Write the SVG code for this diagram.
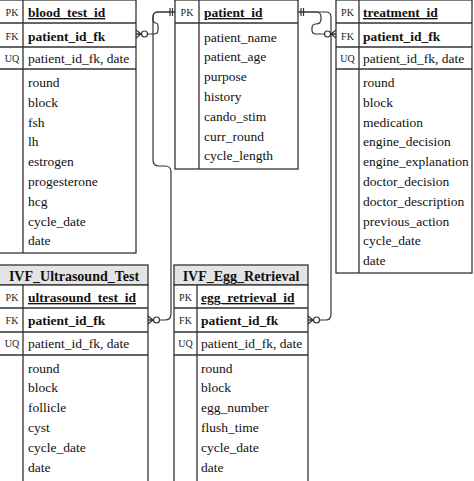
<svg xmlns="http://www.w3.org/2000/svg" width="474" height="481" viewBox="0 0 474 481">
<style>
.box{fill:#fff;stroke:#333;stroke-width:1.3}
.hdr{fill:#e4e4e4;stroke:#333;stroke-width:1.3}
.ln{stroke:#333;stroke-width:1.3;fill:none}
.k{font-family:"Liberation Serif","Times New Roman",serif;font-size:10px;fill:#222;text-anchor:middle}
.f{font-family:"Liberation Serif","Times New Roman",serif;font-size:13.5px;fill:#111}
.b{font-weight:bold}
.u{text-decoration:underline}
.h{font-family:"Liberation Serif","Times New Roman",serif;font-size:14px;font-weight:bold;fill:#111;text-anchor:middle}
.c{stroke:#333;stroke-width:1.2;fill:none}
.o{fill:#fff;stroke:#333;stroke-width:1.2}
</style>
<g id="blood_test">
<rect class="hdr" x="-1" y="-22" width="137" height="22"/>
<rect class="box" x="-1" y="0" width="137" height="253"/>
<path class="ln" d="M-1,23H136M-1,47H136M-1,69H136M23,0V253"/>
<text class="k" x="12" y="16">PK</text>
<text class="k" x="12" y="40">FK</text>
<text class="k" x="12" y="62">UQ</text>
<text class="f b u" x="28" y="17">blood_test_id</text>
<text class="f b" x="28" y="41">patient_id_fk</text>
<text class="f" x="28" y="63">patient_id_fk, date</text>
<text class="f" x="28" y="87">round</text>
<text class="f" x="28" y="106.8">block</text>
<text class="f" x="28" y="126.6">fsh</text>
<text class="f" x="28" y="146.4">lh</text>
<text class="f" x="28" y="166.2">estrogen</text>
<text class="f" x="28" y="186">progesterone</text>
<text class="f" x="28" y="205.8">hcg</text>
<text class="f" x="28" y="225.6">cycle_date</text>
<text class="f" x="28" y="245.4">date</text>
</g>
<g id="patient">
<rect class="hdr" x="175" y="-22" width="123" height="22"/>
<rect class="box" x="175" y="0" width="123" height="169"/>
<path class="ln" d="M175,23H298M199,0V169"/>
<text class="k" x="187" y="16">PK</text>
<text class="f b u" x="204" y="17">patient_id</text>
<text class="f" x="204" y="41.5">patient_name</text>
<text class="f" x="204" y="61.3">patient_age</text>
<text class="f" x="204" y="81.1">purpose</text>
<text class="f" x="204" y="100.9">history</text>
<text class="f" x="204" y="120.7">cando_stim</text>
<text class="f" x="204" y="140.5">curr_round</text>
<text class="f" x="204" y="160.3">cycle_length</text>
</g>
<g id="treatment">
<rect class="hdr" x="336" y="-22" width="136" height="22"/>
<rect class="box" x="336" y="0" width="136" height="273"/>
<path class="ln" d="M336,23H472M336,47H472M336,69H472M359,0V273"/>
<text class="k" x="347.5" y="16">PK</text>
<text class="k" x="347.5" y="40">FK</text>
<text class="k" x="347.5" y="62">UQ</text>
<text class="f b u" x="363" y="17">treatment_id</text>
<text class="f b" x="363" y="41">patient_id_fk</text>
<text class="f" x="363" y="63">patient_id_fk, date</text>
<text class="f" x="363" y="87">round</text>
<text class="f" x="363" y="106.8">block</text>
<text class="f" x="363" y="126.6">medication</text>
<text class="f" x="363" y="146.4">engine_decision</text>
<text class="f" x="363" y="166.2">engine_explanation</text>
<text class="f" x="363" y="186">doctor_decision</text>
<text class="f" x="363" y="205.8">doctor_description</text>
<text class="f" x="363" y="225.6">previous_action</text>
<text class="f" x="363" y="245.4">cycle_date</text>
<text class="f" x="363" y="265.2">date</text>
</g>
<g id="ultrasound">
<rect class="hdr" x="-1" y="265" width="149" height="20"/>
<rect class="box" x="-1" y="285" width="149" height="200"/>
<path class="ln" d="M-1,308H148M-1,332H148M-1,355H148M23,285V485"/>
<text class="h" x="74" y="280.5">IVF_Ultrasound_Test</text>
<text class="k" x="12" y="301">PK</text>
<text class="k" x="12" y="324">FK</text>
<text class="k" x="12" y="347">UQ</text>
<text class="f b u" x="28" y="302">ultrasound_test_id</text>
<text class="f b" x="28" y="325">patient_id_fk</text>
<text class="f" x="28" y="348">patient_id_fk, date</text>
<text class="f" x="28" y="372.5">round</text>
<text class="f" x="28" y="392.3">block</text>
<text class="f" x="28" y="412.1">follicle</text>
<text class="f" x="28" y="431.9">cyst</text>
<text class="f" x="28" y="451.7">cycle_date</text>
<text class="f" x="28" y="471.5">date</text>
</g>
<g id="egg_retrieval">
<rect class="hdr" x="174" y="265" width="134" height="20"/>
<rect class="box" x="174" y="285" width="134" height="200"/>
<path class="ln" d="M174,308H308M174,332H308M174,355H308M197,285V485"/>
<text class="h" x="241" y="280.5">IVF_Egg_Retrieval</text>
<text class="k" x="185.5" y="301">PK</text>
<text class="k" x="185.5" y="324">FK</text>
<text class="k" x="185.5" y="347">UQ</text>
<text class="f b u" x="201" y="302">egg_retrieval_id</text>
<text class="f b" x="201" y="325">patient_id_fk</text>
<text class="f" x="201" y="348">patient_id_fk, date</text>
<text class="f" x="201" y="372.5">round</text>
<text class="f" x="201" y="392.3">block</text>
<text class="f" x="201" y="412.1">egg_number</text>
<text class="f" x="201" y="431.9">flush_time</text>
<text class="f" x="201" y="451.7">cycle_date</text>
<text class="f" x="201" y="471.5">date</text>
</g>
<g id="connectors">
<path class="c" d="M175,12H158Q153,12 153,17V19Q153,23 156,23Q158,23 158,27V30Q158,34 154,34H136"/>
<path class="c" d="M175,12H158Q153,12 153,17V160Q153,166 159,166H165Q171,166 171,172V314Q171,320 165,320H148"/>
<path class="c" d="M298,12H316Q321,12 321,17V19Q321,24 316,24Q312,24 312,28V30Q312,34 316,34H336"/>
<path class="c" d="M298,12H326Q331,12 331,17V314Q331,320 326,320H308"/>
<path class="c" d="M170,8V16M172.5,8V16M301,8V16M303.5,8V16"/>
<path class="c" d="M136,30L141,34L136,38M136,34H141"/>
<circle class="o" cx="144.5" cy="34" r="3"/>
<path class="c" d="M148,316L153,320L148,324M148,320H153"/>
<circle class="o" cx="156.5" cy="320" r="3"/>
<path class="c" d="M336,30L331,34L336,38M336,34H331"/>
<circle class="o" cx="327.5" cy="34" r="3"/>
<path class="c" d="M308,316L313,320L308,324M308,320H313"/>
<circle class="o" cx="316.5" cy="320" r="3"/>
</g>
</svg>
